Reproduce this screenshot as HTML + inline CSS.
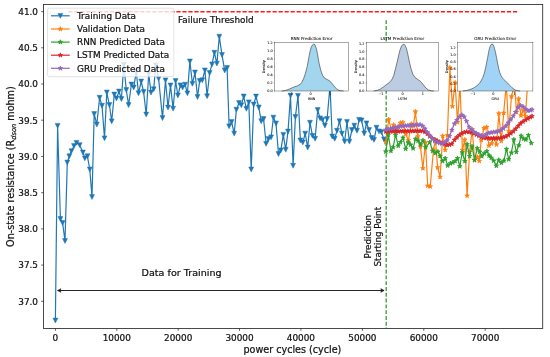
<!DOCTYPE html>
<html><head><meta charset="utf-8"><title>Rdson prediction</title>
<style>
html,body{margin:0;padding:0;background:#fff;}
body{width:550px;height:357px;overflow:hidden;}
svg{display:block;}
text{font-family:"DejaVu Sans","Liberation Sans",sans-serif;fill:#111;stroke:#111;stroke-width:0.22px;}
.t{font-size:8.9px;}
.in text{font-size:3.4px;fill:#111;stroke-width:0.08px;}
</style></head><body>
<svg width="550" height="357" viewBox="0 0 550 357">
<defs>
<path id="tri" d="M-2.45,-2.4 L2.45,-2.4 L0,2.5Z"/>
<path id="star" d="M0.00,-2.35 L0.53,-0.73 L2.23,-0.73 L0.85,0.28 L1.38,1.90 L0.00,0.90 L-1.38,1.90 L-0.85,0.28 L-2.23,-0.73 L-0.53,-0.73Z"/>
<clipPath id="axclip"><rect x="43.5" y="4.5" width="499.25" height="324.0"/></clipPath>
</defs>
<rect width="550" height="357" fill="#fff"/>
<g clip-path="url(#axclip)">
<line x1="68.2" y1="11.799999999999999" x2="517.3" y2="11.799999999999999" stroke="#ff1a1a" stroke-width="1.45" stroke-dasharray="4.2 1.81"/>
<line x1="386.2" y1="20.2" x2="386.2" y2="328.5" stroke="#2ca02c" stroke-width="1.3" stroke-dasharray="3.9 1.9"/>
<polyline points="55.4,320.5 57.6,125.8 60.4,219.0 62.6,223.0 65.0,241.0 67.3,162.5 69.3,156.2 71.5,151.1 74.0,146.0 76.5,142.8 79.7,145.1 82.9,152.4 84.8,158.3 87.4,156.2 89.8,169.5 92.0,197.0 94.2,114.0 96.8,124.5 99.6,97.7 102.0,105.7 104.5,138.3 106.8,92.5 109.4,105.0 111.7,121.3 114.3,94.5 116.5,98.4 119.0,91.5 121.4,99.0 123.8,64.6 126.3,90.0 128.6,105.0 131.4,84.5 133.7,87.4 136.3,71.9 138.5,93.2 141.2,81.5 143.6,91.8 146.2,114.5 148.7,74.0 151.0,92.5 153.7,89.2 155.7,65.3 158.6,78.6 162.5,118.0 165.5,80.3 168.0,107.5 170.5,85.4 173.1,108.6 175.6,81.0 177.9,95.5 180.4,85.3 182.6,87.5 185.1,84.6 187.4,93.3 189.9,61.4 192.4,83.8 195.0,72.5 197.5,97.0 199.7,80.9 202.3,80.2 204.9,70.4 207.1,96.2 209.6,73.0 212.0,64.4 214.4,52.7 216.9,63.6 219.3,36.7 222.0,54.9 224.7,70.4 227.1,68.0 229.1,126.3 231.6,122.0 234.2,133.6 236.4,109.7 239.0,103.0 241.3,105.2 243.7,96.5 246.4,108.8 248.8,102.3 251.2,169.4 253.7,104.5 256.0,96.5 258.8,107.4 261.2,121.2 263.6,119.0 266.1,143.8 268.4,139.0 271.1,137.3 273.4,117.6 276.0,123.4 278.5,154.0 280.8,150.4 283.3,134.8 285.7,149.7 288.0,131.5 290.5,95.6 293.1,165.7 295.4,116.9 298.0,95.8 300.4,140.4 302.8,142.4 305.2,133.6 307.7,147.5 310.0,122.7 312.5,135.8 315.1,138.7 317.7,110.0 320.1,118.3 322.4,119.8 324.9,125.6 327.1,119.0 330.0,86.0 332.2,136.5 334.7,138.7 337.0,130.7 339.5,121.2 341.9,133.6 344.6,141.6 347.0,122.0 349.4,141.6 351.9,130.0 354.3,125.6 357.0,130.7 359.1,119.8 361.6,120.3 364.2,133.5 366.5,123.3 369.1,130.0 371.6,138.0 374.0,139.8 376.5,127.7 379.0,131.3 381.4,132.1 384.0,139.4 386.0,142.0" fill="none" stroke="#1f77b4" stroke-width="1.2" stroke-linejoin="round"/>
<g fill="#1f77b4" stroke="#1f77b4" stroke-width="0.5" stroke-linejoin="round"><use href="#tri" x="55.4" y="320.5"/><use href="#tri" x="57.6" y="125.8"/><use href="#tri" x="60.4" y="219.0"/><use href="#tri" x="62.6" y="223.0"/><use href="#tri" x="65.0" y="241.0"/><use href="#tri" x="67.3" y="162.5"/><use href="#tri" x="69.3" y="156.2"/><use href="#tri" x="71.5" y="151.1"/><use href="#tri" x="74.0" y="146.0"/><use href="#tri" x="76.5" y="142.8"/><use href="#tri" x="79.7" y="145.1"/><use href="#tri" x="82.9" y="152.4"/><use href="#tri" x="84.8" y="158.3"/><use href="#tri" x="87.4" y="156.2"/><use href="#tri" x="89.8" y="169.5"/><use href="#tri" x="92.0" y="197.0"/><use href="#tri" x="94.2" y="114.0"/><use href="#tri" x="96.8" y="124.5"/><use href="#tri" x="99.6" y="97.7"/><use href="#tri" x="102.0" y="105.7"/><use href="#tri" x="104.5" y="138.3"/><use href="#tri" x="106.8" y="92.5"/><use href="#tri" x="109.4" y="105.0"/><use href="#tri" x="111.7" y="121.3"/><use href="#tri" x="114.3" y="94.5"/><use href="#tri" x="116.5" y="98.4"/><use href="#tri" x="119.0" y="91.5"/><use href="#tri" x="121.4" y="99.0"/><use href="#tri" x="123.8" y="64.6"/><use href="#tri" x="126.3" y="90.0"/><use href="#tri" x="128.6" y="105.0"/><use href="#tri" x="131.4" y="84.5"/><use href="#tri" x="133.7" y="87.4"/><use href="#tri" x="136.3" y="71.9"/><use href="#tri" x="138.5" y="93.2"/><use href="#tri" x="141.2" y="81.5"/><use href="#tri" x="143.6" y="91.8"/><use href="#tri" x="146.2" y="114.5"/><use href="#tri" x="148.7" y="74.0"/><use href="#tri" x="151.0" y="92.5"/><use href="#tri" x="153.7" y="89.2"/><use href="#tri" x="155.7" y="65.3"/><use href="#tri" x="158.6" y="78.6"/><use href="#tri" x="162.5" y="118.0"/><use href="#tri" x="165.5" y="80.3"/><use href="#tri" x="168.0" y="107.5"/><use href="#tri" x="170.5" y="85.4"/><use href="#tri" x="173.1" y="108.6"/><use href="#tri" x="175.6" y="81.0"/><use href="#tri" x="177.9" y="95.5"/><use href="#tri" x="180.4" y="85.3"/><use href="#tri" x="182.6" y="87.5"/><use href="#tri" x="185.1" y="84.6"/><use href="#tri" x="187.4" y="93.3"/><use href="#tri" x="189.9" y="61.4"/><use href="#tri" x="192.4" y="83.8"/><use href="#tri" x="195.0" y="72.5"/><use href="#tri" x="197.5" y="97.0"/><use href="#tri" x="199.7" y="80.9"/><use href="#tri" x="202.3" y="80.2"/><use href="#tri" x="204.9" y="70.4"/><use href="#tri" x="207.1" y="96.2"/><use href="#tri" x="209.6" y="73.0"/><use href="#tri" x="212.0" y="64.4"/><use href="#tri" x="214.4" y="52.7"/><use href="#tri" x="216.9" y="63.6"/><use href="#tri" x="219.3" y="36.7"/><use href="#tri" x="222.0" y="54.9"/><use href="#tri" x="224.7" y="70.4"/><use href="#tri" x="227.1" y="68.0"/><use href="#tri" x="229.1" y="126.3"/><use href="#tri" x="231.6" y="122.0"/><use href="#tri" x="234.2" y="133.6"/><use href="#tri" x="236.4" y="109.7"/><use href="#tri" x="239.0" y="103.0"/><use href="#tri" x="241.3" y="105.2"/><use href="#tri" x="243.7" y="96.5"/><use href="#tri" x="246.4" y="108.8"/><use href="#tri" x="248.8" y="102.3"/><use href="#tri" x="251.2" y="169.4"/><use href="#tri" x="253.7" y="104.5"/><use href="#tri" x="256.0" y="96.5"/><use href="#tri" x="258.8" y="107.4"/><use href="#tri" x="261.2" y="121.2"/><use href="#tri" x="263.6" y="119.0"/><use href="#tri" x="266.1" y="143.8"/><use href="#tri" x="268.4" y="139.0"/><use href="#tri" x="271.1" y="137.3"/><use href="#tri" x="273.4" y="117.6"/><use href="#tri" x="276.0" y="123.4"/><use href="#tri" x="278.5" y="154.0"/><use href="#tri" x="280.8" y="150.4"/><use href="#tri" x="283.3" y="134.8"/><use href="#tri" x="285.7" y="149.7"/><use href="#tri" x="288.0" y="131.5"/><use href="#tri" x="290.5" y="95.6"/><use href="#tri" x="293.1" y="165.7"/><use href="#tri" x="295.4" y="116.9"/><use href="#tri" x="298.0" y="95.8"/><use href="#tri" x="300.4" y="140.4"/><use href="#tri" x="302.8" y="142.4"/><use href="#tri" x="305.2" y="133.6"/><use href="#tri" x="307.7" y="147.5"/><use href="#tri" x="310.0" y="122.7"/><use href="#tri" x="312.5" y="135.8"/><use href="#tri" x="315.1" y="138.7"/><use href="#tri" x="317.7" y="110.0"/><use href="#tri" x="320.1" y="118.3"/><use href="#tri" x="322.4" y="119.8"/><use href="#tri" x="324.9" y="125.6"/><use href="#tri" x="327.1" y="119.0"/><use href="#tri" x="330.0" y="86.0"/><use href="#tri" x="332.2" y="136.5"/><use href="#tri" x="334.7" y="138.7"/><use href="#tri" x="337.0" y="130.7"/><use href="#tri" x="339.5" y="121.2"/><use href="#tri" x="341.9" y="133.6"/><use href="#tri" x="344.6" y="141.6"/><use href="#tri" x="347.0" y="122.0"/><use href="#tri" x="349.4" y="141.6"/><use href="#tri" x="351.9" y="130.0"/><use href="#tri" x="354.3" y="125.6"/><use href="#tri" x="357.0" y="130.7"/><use href="#tri" x="359.1" y="119.8"/><use href="#tri" x="361.6" y="120.3"/><use href="#tri" x="364.2" y="133.5"/><use href="#tri" x="366.5" y="123.3"/><use href="#tri" x="369.1" y="130.0"/><use href="#tri" x="371.6" y="138.0"/><use href="#tri" x="374.0" y="139.8"/><use href="#tri" x="376.5" y="127.7"/><use href="#tri" x="379.0" y="131.3"/><use href="#tri" x="381.4" y="132.1"/><use href="#tri" x="384.0" y="139.4"/><use href="#tri" x="386.0" y="142.0"/></g>
<polyline points="385.8,142.2 388.7,119.4 391.3,129.8 393.6,124.9 396.0,131.0 398.2,127.0 400.4,122.9 402.8,122.4 405.8,134.2 408.4,140.4 411.3,124.0 413.3,126.0 415.4,111.6 417.9,136.4 420.4,146.6 422.9,168.3 425.5,142.5 427.7,185.8 430.2,186.5 433.5,149.6 435.5,140.0 437.6,167.5 440.1,177.0 442.7,136.0 445.2,150.0 447.4,135.3 449.9,67.7 452.4,106.4 455.1,82.7 457.5,122.3 460.0,84.0 462.4,150.0 464.8,139.7 467.1,195.7 469.6,152.0 472.2,129.3 474.6,160.0 477.3,157.0 479.3,161.0 481.2,140.2 484.0,128.2 486.7,127.1 488.9,145.7 491.6,143.5 493.8,138.0 496.5,144.6 498.9,113.5 501.3,141.0 503.7,113.0 506.3,84.0 508.7,131.0 511.5,96.5 514.5,84.0 516.5,112.0 518.7,98.8 521.0,115.5 523.2,110.4 525.4,116.2 527.6,84.0 530.7,57.3" fill="none" stroke="#ff7f0e" stroke-width="1.2" stroke-linejoin="round"/>
<g fill="#ff7f0e" stroke="#ff7f0e" stroke-width="0.8" stroke-linejoin="round"><use href="#star" x="385.8" y="142.2"/><use href="#star" x="388.7" y="119.4"/><use href="#star" x="391.3" y="129.8"/><use href="#star" x="393.6" y="124.9"/><use href="#star" x="396.0" y="131.0"/><use href="#star" x="398.2" y="127.0"/><use href="#star" x="400.4" y="122.9"/><use href="#star" x="402.8" y="122.4"/><use href="#star" x="405.8" y="134.2"/><use href="#star" x="408.4" y="140.4"/><use href="#star" x="411.3" y="124.0"/><use href="#star" x="413.3" y="126.0"/><use href="#star" x="415.4" y="111.6"/><use href="#star" x="417.9" y="136.4"/><use href="#star" x="420.4" y="146.6"/><use href="#star" x="422.9" y="168.3"/><use href="#star" x="425.5" y="142.5"/><use href="#star" x="427.7" y="185.8"/><use href="#star" x="430.2" y="186.5"/><use href="#star" x="433.5" y="149.6"/><use href="#star" x="435.5" y="140.0"/><use href="#star" x="437.6" y="167.5"/><use href="#star" x="440.1" y="177.0"/><use href="#star" x="442.7" y="136.0"/><use href="#star" x="445.2" y="150.0"/><use href="#star" x="447.4" y="135.3"/><use href="#star" x="449.9" y="67.7"/><use href="#star" x="452.4" y="106.4"/><use href="#star" x="455.1" y="82.7"/><use href="#star" x="457.5" y="122.3"/><use href="#star" x="460.0" y="84.0"/><use href="#star" x="462.4" y="150.0"/><use href="#star" x="464.8" y="139.7"/><use href="#star" x="467.1" y="195.7"/><use href="#star" x="469.6" y="152.0"/><use href="#star" x="472.2" y="129.3"/><use href="#star" x="474.6" y="160.0"/><use href="#star" x="477.3" y="157.0"/><use href="#star" x="479.3" y="161.0"/><use href="#star" x="481.2" y="140.2"/><use href="#star" x="484.0" y="128.2"/><use href="#star" x="486.7" y="127.1"/><use href="#star" x="488.9" y="145.7"/><use href="#star" x="491.6" y="143.5"/><use href="#star" x="493.8" y="138.0"/><use href="#star" x="496.5" y="144.6"/><use href="#star" x="498.9" y="113.5"/><use href="#star" x="501.3" y="141.0"/><use href="#star" x="503.7" y="113.0"/><use href="#star" x="506.3" y="84.0"/><use href="#star" x="508.7" y="131.0"/><use href="#star" x="511.5" y="96.5"/><use href="#star" x="514.5" y="84.0"/><use href="#star" x="516.5" y="112.0"/><use href="#star" x="518.7" y="98.8"/><use href="#star" x="521.0" y="115.5"/><use href="#star" x="523.2" y="110.4"/><use href="#star" x="525.4" y="116.2"/><use href="#star" x="527.6" y="84.0"/><use href="#star" x="530.7" y="57.3"/></g>
<polyline points="385.8,151.6 388.3,134.9 390.9,150.9 393.1,147.3 395.6,134.9 398.2,145.8 400.5,142.2 403.0,137.8 405.7,148.8 408.2,142.6 410.6,144.8 413.1,148.4 415.5,139.0 418.0,140.8 420.6,144.5 423.0,140.4 425.6,147.4 429.8,142.3 432.7,151.0 435.2,153.2 437.9,151.7 440.1,156.1 442.7,161.2 445.2,158.3 447.7,165.6 450.3,163.4 452.8,162.7 455.1,161.2 457.6,158.3 459.8,166.3 462.2,152.5 464.9,161.2 467.1,144.3 469.6,156.2 472.0,146.4 474.6,160.2 477.2,148.2 479.7,151.8 481.8,156.3 484.2,153.4 486.9,151.2 489.1,155.6 491.2,157.8 493.7,160.7 496.3,165.8 498.8,160.0 501.4,162.9 503.9,160.7 506.5,149.1 508.7,159.3 511.4,152.7 513.8,139.6 516.3,152.0 518.9,145.4 521.1,135.9 523.7,138.8 525.9,139.6 528.4,135.2 531.3,143.2" fill="none" stroke="#2ca02c" stroke-width="1.2" stroke-linejoin="round"/>
<g fill="#2ca02c" stroke="#2ca02c" stroke-width="0.8" stroke-linejoin="round"><use href="#star" x="385.8" y="151.6"/><use href="#star" x="388.3" y="134.9"/><use href="#star" x="390.9" y="150.9"/><use href="#star" x="393.1" y="147.3"/><use href="#star" x="395.6" y="134.9"/><use href="#star" x="398.2" y="145.8"/><use href="#star" x="400.5" y="142.2"/><use href="#star" x="403.0" y="137.8"/><use href="#star" x="405.7" y="148.8"/><use href="#star" x="408.2" y="142.6"/><use href="#star" x="410.6" y="144.8"/><use href="#star" x="413.1" y="148.4"/><use href="#star" x="415.5" y="139.0"/><use href="#star" x="418.0" y="140.8"/><use href="#star" x="420.6" y="144.5"/><use href="#star" x="423.0" y="140.4"/><use href="#star" x="425.6" y="147.4"/><use href="#star" x="429.8" y="142.3"/><use href="#star" x="432.7" y="151.0"/><use href="#star" x="435.2" y="153.2"/><use href="#star" x="437.9" y="151.7"/><use href="#star" x="440.1" y="156.1"/><use href="#star" x="442.7" y="161.2"/><use href="#star" x="445.2" y="158.3"/><use href="#star" x="447.7" y="165.6"/><use href="#star" x="450.3" y="163.4"/><use href="#star" x="452.8" y="162.7"/><use href="#star" x="455.1" y="161.2"/><use href="#star" x="457.6" y="158.3"/><use href="#star" x="459.8" y="166.3"/><use href="#star" x="462.2" y="152.5"/><use href="#star" x="464.9" y="161.2"/><use href="#star" x="467.1" y="144.3"/><use href="#star" x="469.6" y="156.2"/><use href="#star" x="472.0" y="146.4"/><use href="#star" x="474.6" y="160.2"/><use href="#star" x="477.2" y="148.2"/><use href="#star" x="479.7" y="151.8"/><use href="#star" x="481.8" y="156.3"/><use href="#star" x="484.2" y="153.4"/><use href="#star" x="486.9" y="151.2"/><use href="#star" x="489.1" y="155.6"/><use href="#star" x="491.2" y="157.8"/><use href="#star" x="493.7" y="160.7"/><use href="#star" x="496.3" y="165.8"/><use href="#star" x="498.8" y="160.0"/><use href="#star" x="501.4" y="162.9"/><use href="#star" x="503.9" y="160.7"/><use href="#star" x="506.5" y="149.1"/><use href="#star" x="508.7" y="159.3"/><use href="#star" x="511.4" y="152.7"/><use href="#star" x="513.8" y="139.6"/><use href="#star" x="516.3" y="152.0"/><use href="#star" x="518.9" y="145.4"/><use href="#star" x="521.1" y="135.9"/><use href="#star" x="523.7" y="138.8"/><use href="#star" x="525.9" y="139.6"/><use href="#star" x="528.4" y="135.2"/><use href="#star" x="531.3" y="143.2"/></g>
<polyline points="385.8,131.5 388.2,131.5 390.7,131.4 393.1,131.4 395.6,131.4 398.1,131.3 400.5,131.3 402.9,131.2 405.4,131.2 407.9,131.1 410.3,131.1 412.8,131.0 415.2,131.0 417.6,131.0 420.1,131.0 422.6,131.0 425.0,131.9 427.4,133.8 429.9,136.4 432.4,138.4 434.8,139.9 437.2,140.9 439.7,142.1 442.1,143.2 444.6,144.2 447.1,145.0 449.5,144.7 451.9,143.9 454.4,140.0 456.9,137.4 459.3,135.2 461.8,133.5 464.2,132.4 466.6,131.8 469.1,132.1 471.6,132.4 474.0,133.4 476.4,134.7 478.9,135.8 481.4,136.8 483.8,137.7 486.2,138.0 488.7,138.3 491.1,138.5 493.6,138.4 496.1,138.3 498.5,138.3 500.9,137.8 503.4,137.3 505.9,136.5 508.3,135.2 510.8,133.4 513.2,131.4 515.6,128.9 518.1,126.1 520.5,123.5 523.0,121.7 525.5,120.1 527.9,118.6 530.4,117.2 532.0,116.2" fill="none" stroke="#d62728" stroke-width="1.2" stroke-linejoin="round"/>
<g fill="#d62728" stroke="#d62728" stroke-width="0.8" stroke-linejoin="round"><use href="#star" x="385.8" y="131.5"/><use href="#star" x="388.2" y="131.5"/><use href="#star" x="390.7" y="131.4"/><use href="#star" x="393.1" y="131.4"/><use href="#star" x="395.6" y="131.4"/><use href="#star" x="398.1" y="131.3"/><use href="#star" x="400.5" y="131.3"/><use href="#star" x="402.9" y="131.2"/><use href="#star" x="405.4" y="131.2"/><use href="#star" x="407.9" y="131.1"/><use href="#star" x="410.3" y="131.1"/><use href="#star" x="412.8" y="131.0"/><use href="#star" x="415.2" y="131.0"/><use href="#star" x="417.6" y="131.0"/><use href="#star" x="420.1" y="131.0"/><use href="#star" x="422.6" y="131.0"/><use href="#star" x="425.0" y="131.9"/><use href="#star" x="427.4" y="133.8"/><use href="#star" x="429.9" y="136.4"/><use href="#star" x="432.4" y="138.4"/><use href="#star" x="434.8" y="139.9"/><use href="#star" x="437.2" y="140.9"/><use href="#star" x="439.7" y="142.1"/><use href="#star" x="442.1" y="143.2"/><use href="#star" x="444.6" y="144.2"/><use href="#star" x="447.1" y="145.0"/><use href="#star" x="449.5" y="144.7"/><use href="#star" x="451.9" y="143.9"/><use href="#star" x="454.4" y="140.0"/><use href="#star" x="456.9" y="137.4"/><use href="#star" x="459.3" y="135.2"/><use href="#star" x="461.8" y="133.5"/><use href="#star" x="464.2" y="132.4"/><use href="#star" x="466.6" y="131.8"/><use href="#star" x="469.1" y="132.1"/><use href="#star" x="471.6" y="132.4"/><use href="#star" x="474.0" y="133.4"/><use href="#star" x="476.4" y="134.7"/><use href="#star" x="478.9" y="135.8"/><use href="#star" x="481.4" y="136.8"/><use href="#star" x="483.8" y="137.7"/><use href="#star" x="486.2" y="138.0"/><use href="#star" x="488.7" y="138.3"/><use href="#star" x="491.1" y="138.5"/><use href="#star" x="493.6" y="138.4"/><use href="#star" x="496.1" y="138.3"/><use href="#star" x="498.5" y="138.3"/><use href="#star" x="500.9" y="137.8"/><use href="#star" x="503.4" y="137.3"/><use href="#star" x="505.9" y="136.5"/><use href="#star" x="508.3" y="135.2"/><use href="#star" x="510.8" y="133.4"/><use href="#star" x="513.2" y="131.4"/><use href="#star" x="515.6" y="128.9"/><use href="#star" x="518.1" y="126.1"/><use href="#star" x="520.5" y="123.5"/><use href="#star" x="523.0" y="121.7"/><use href="#star" x="525.5" y="120.1"/><use href="#star" x="527.9" y="118.6"/><use href="#star" x="530.4" y="117.2"/><use href="#star" x="532.0" y="116.2"/></g>
<polyline points="385.8,129.8 388.2,129.2 390.7,128.6 393.1,128.0 395.6,127.5 398.1,126.9 400.5,126.4 402.9,126.0 405.4,125.8 407.9,125.6 410.3,125.4 412.8,125.2 415.2,125.0 417.6,124.9 420.1,124.7 422.6,126.0 425.0,128.8 427.4,132.4 429.9,135.7 432.4,138.8 434.8,141.2 437.2,142.4 439.7,143.1 442.1,143.5 444.6,142.7 447.1,140.6 449.5,136.2 451.9,130.1 454.4,123.7 456.9,120.2 459.3,117.0 461.8,114.9 464.2,116.8 466.6,121.2 469.1,127.2 471.6,129.8 474.0,132.0 476.4,133.3 478.9,134.7 481.4,135.7 483.8,136.0 486.2,134.2 488.7,133.0 491.1,132.5 493.6,132.1 496.1,131.8 498.5,131.5 500.9,130.0 503.4,128.5 505.9,125.9 508.3,122.8 510.8,119.5 513.2,116.0 515.6,112.2 518.1,107.6 520.5,105.5 523.0,106.7 525.5,109.0 527.9,110.8 530.4,110.3 532.0,109.7" fill="none" stroke="#9467bd" stroke-width="1.2" stroke-linejoin="round"/>
<g fill="#9467bd" stroke="#9467bd" stroke-width="0.8" stroke-linejoin="round"><use href="#star" x="385.8" y="129.8"/><use href="#star" x="388.2" y="129.2"/><use href="#star" x="390.7" y="128.6"/><use href="#star" x="393.1" y="128.0"/><use href="#star" x="395.6" y="127.5"/><use href="#star" x="398.1" y="126.9"/><use href="#star" x="400.5" y="126.4"/><use href="#star" x="402.9" y="126.0"/><use href="#star" x="405.4" y="125.8"/><use href="#star" x="407.9" y="125.6"/><use href="#star" x="410.3" y="125.4"/><use href="#star" x="412.8" y="125.2"/><use href="#star" x="415.2" y="125.0"/><use href="#star" x="417.6" y="124.9"/><use href="#star" x="420.1" y="124.7"/><use href="#star" x="422.6" y="126.0"/><use href="#star" x="425.0" y="128.8"/><use href="#star" x="427.4" y="132.4"/><use href="#star" x="429.9" y="135.7"/><use href="#star" x="432.4" y="138.8"/><use href="#star" x="434.8" y="141.2"/><use href="#star" x="437.2" y="142.4"/><use href="#star" x="439.7" y="143.1"/><use href="#star" x="442.1" y="143.5"/><use href="#star" x="444.6" y="142.7"/><use href="#star" x="447.1" y="140.6"/><use href="#star" x="449.5" y="136.2"/><use href="#star" x="451.9" y="130.1"/><use href="#star" x="454.4" y="123.7"/><use href="#star" x="456.9" y="120.2"/><use href="#star" x="459.3" y="117.0"/><use href="#star" x="461.8" y="114.9"/><use href="#star" x="464.2" y="116.8"/><use href="#star" x="466.6" y="121.2"/><use href="#star" x="469.1" y="127.2"/><use href="#star" x="471.6" y="129.8"/><use href="#star" x="474.0" y="132.0"/><use href="#star" x="476.4" y="133.3"/><use href="#star" x="478.9" y="134.7"/><use href="#star" x="481.4" y="135.7"/><use href="#star" x="483.8" y="136.0"/><use href="#star" x="486.2" y="134.2"/><use href="#star" x="488.7" y="133.0"/><use href="#star" x="491.1" y="132.5"/><use href="#star" x="493.6" y="132.1"/><use href="#star" x="496.1" y="131.8"/><use href="#star" x="498.5" y="131.5"/><use href="#star" x="500.9" y="130.0"/><use href="#star" x="503.4" y="128.5"/><use href="#star" x="505.9" y="125.9"/><use href="#star" x="508.3" y="122.8"/><use href="#star" x="510.8" y="119.5"/><use href="#star" x="513.2" y="116.0"/><use href="#star" x="515.6" y="112.2"/><use href="#star" x="518.1" y="107.6"/><use href="#star" x="520.5" y="105.5"/><use href="#star" x="523.0" y="106.7"/><use href="#star" x="525.5" y="109.0"/><use href="#star" x="527.9" y="110.8"/><use href="#star" x="530.4" y="110.3"/><use href="#star" x="532.0" y="109.7"/></g>
</g>
<text class="t" x="178" y="23" textLength="75.6" lengthAdjust="spacingAndGlyphs">Failure Threshold</text>
<text x="141.6" y="276.1" font-size="9.5" textLength="80" lengthAdjust="spacingAndGlyphs">Data for Training</text>
<g stroke="#1a1a1a" stroke-width="0.95" fill="none" stroke-linejoin="miter"><line x1="57.6" y1="290.5" x2="384" y2="290.5"/><polygon points="60.9,288.7 57.6,290.5 60.9,292.3 60.2,290.5" fill="#1a1a1a" stroke-width="0.6"/><polygon points="380.8,288.7 384.1,290.5 380.8,292.3 381.5,290.5" fill="#1a1a1a" stroke-width="0.6"/></g>
<text class="t" transform="translate(370.6,236.7) rotate(-90)" text-anchor="middle" textLength="43.6" lengthAdjust="spacingAndGlyphs">Prediction</text>
<text class="t" transform="translate(381.2,236.7) rotate(-90)" text-anchor="middle" textLength="59.6" lengthAdjust="spacingAndGlyphs">Starting Point</text>
<g class="in"><rect x="274.8" y="42.4" width="73.5" height="48.6" fill="#fff"/><path d="M281.7,91.0 L285.3,90.5 L289.0,89.2 L294.4,86.8 L297.2,85.9 L299.9,84.6 L301.7,82.5 L303.5,78.8 L305.4,73.4 L307.2,66.4 L308.6,58.8 L309.9,51.9 L311.2,47.3 L312.6,44.8 L313.7,44.0 L314.8,44.6 L316.3,48.2 L317.6,54.6 L319.0,62.8 L320.8,70.4 L322.7,75.5 L324.5,78.1 L327.2,79.5 L329.4,80.8 L330.9,82.1 L332.7,84.3 L334.5,86.6 L336.3,88.7 L338.1,90.1 L340.9,90.8 L343.6,91.0 Z" fill="#a2d5ee"/><path d="M281.7,91.0 L285.3,90.5 L289.0,89.2 L294.4,86.8 L297.2,85.9 L299.9,84.6 L301.7,82.5 L303.5,78.8 L305.4,73.4 L307.2,66.4 L308.6,58.8 L309.9,51.9 L311.2,47.3 L312.6,44.8 L313.7,44.0 L314.8,44.6 L316.3,48.2 L317.6,54.6 L319.0,62.8 L320.8,70.4 L322.7,75.5 L324.5,78.1 L327.2,79.5 L329.4,80.8 L330.9,82.1 L332.7,84.3 L334.5,86.6 L336.3,88.7 L338.1,90.1 L340.9,90.8 L343.6,91.0" fill="none" stroke="#222" stroke-width="0.55"/><rect x="274.8" y="42.4" width="73.5" height="48.6" fill="none" stroke="#111" stroke-width="0.36"/><text x="311.6" y="39.7" text-anchor="middle" style="font-size:4.1px">RNN Prediction Error</text><text transform="translate(265.2,66.7) rotate(-90)" text-anchor="middle">Density</text><line x1="273.90000000000003" y1="91.0" x2="274.8" y2="91.0" stroke="#333" stroke-width="0.3"/><text x="272.7" y="92.2" text-anchor="end">0.0</text><line x1="273.90000000000003" y1="83.0" x2="274.8" y2="83.0" stroke="#333" stroke-width="0.3"/><text x="272.7" y="84.2" text-anchor="end">0.2</text><line x1="273.90000000000003" y1="75.0" x2="274.8" y2="75.0" stroke="#333" stroke-width="0.3"/><text x="272.7" y="76.2" text-anchor="end">0.4</text><line x1="273.90000000000003" y1="66.9" x2="274.8" y2="66.9" stroke="#333" stroke-width="0.3"/><text x="272.7" y="68.1" text-anchor="end">0.6</text><line x1="273.90000000000003" y1="58.9" x2="274.8" y2="58.9" stroke="#333" stroke-width="0.3"/><text x="272.7" y="60.1" text-anchor="end">0.8</text><line x1="273.90000000000003" y1="50.9" x2="274.8" y2="50.9" stroke="#333" stroke-width="0.3"/><text x="272.7" y="52.1" text-anchor="end">1.0</text><line x1="273.90000000000003" y1="42.9" x2="274.8" y2="42.9" stroke="#333" stroke-width="0.3"/><text x="272.7" y="44.1" text-anchor="end">1.2</text><line x1="290.4" y1="91" x2="290.4" y2="91.9" stroke="#333" stroke-width="0.3"/><text x="290.4" y="95.2" text-anchor="middle">−1</text><line x1="310.5" y1="91" x2="310.5" y2="91.9" stroke="#333" stroke-width="0.3"/><text x="310.5" y="95.2" text-anchor="middle">0</text><line x1="330.2" y1="91" x2="330.2" y2="91.9" stroke="#333" stroke-width="0.3"/><text x="330.2" y="95.2" text-anchor="middle">1</text><text x="311.6" y="100.0" text-anchor="middle">RNN</text></g>
<g class="in"><rect x="366.4" y="42.4" width="72.0" height="48.6" fill="#fff"/><path d="M373.7,91.0 L377.3,90.3 L380.1,89.2 L383.7,86.8 L386.4,84.6 L388.6,83.0 L390.4,81.5 L392.3,78.8 L393.7,75.5 L395.5,68.6 L397.4,61.0 L398.8,54.6 L400.1,49.7 L401.5,46.0 L402.8,44.6 L404.1,44.2 L405.2,45.5 L406.5,48.6 L407.9,54.6 L409.2,61.0 L411.0,68.6 L412.8,74.1 L415.0,77.4 L417.4,79.2 L419.6,80.6 L421.4,82.3 L423.2,84.6 L425.0,87.0 L426.9,88.8 L428.7,90.1 L431.1,90.8 L433.8,91.0 Z" fill="#bccde3"/><path d="M373.7,91.0 L377.3,90.3 L380.1,89.2 L383.7,86.8 L386.4,84.6 L388.6,83.0 L390.4,81.5 L392.3,78.8 L393.7,75.5 L395.5,68.6 L397.4,61.0 L398.8,54.6 L400.1,49.7 L401.5,46.0 L402.8,44.6 L404.1,44.2 L405.2,45.5 L406.5,48.6 L407.9,54.6 L409.2,61.0 L411.0,68.6 L412.8,74.1 L415.0,77.4 L417.4,79.2 L419.6,80.6 L421.4,82.3 L423.2,84.6 L425.0,87.0 L426.9,88.8 L428.7,90.1 L431.1,90.8 L433.8,91.0" fill="none" stroke="#222" stroke-width="0.55"/><rect x="366.4" y="42.4" width="72.0" height="48.6" fill="none" stroke="#111" stroke-width="0.36"/><text x="402.4" y="39.7" text-anchor="middle" style="font-size:4.1px">LSTM Prediction Error</text><text transform="translate(356.8,66.7) rotate(-90)" text-anchor="middle">Density</text><line x1="365.5" y1="91.0" x2="366.4" y2="91.0" stroke="#333" stroke-width="0.3"/><text x="364.3" y="92.2" text-anchor="end">0.0</text><line x1="365.5" y1="83.0" x2="366.4" y2="83.0" stroke="#333" stroke-width="0.3"/><text x="364.3" y="84.2" text-anchor="end">0.2</text><line x1="365.5" y1="75.1" x2="366.4" y2="75.1" stroke="#333" stroke-width="0.3"/><text x="364.3" y="76.3" text-anchor="end">0.4</text><line x1="365.5" y1="67.2" x2="366.4" y2="67.2" stroke="#333" stroke-width="0.3"/><text x="364.3" y="68.4" text-anchor="end">0.6</text><line x1="365.5" y1="59.2" x2="366.4" y2="59.2" stroke="#333" stroke-width="0.3"/><text x="364.3" y="60.4" text-anchor="end">0.8</text><line x1="365.5" y1="51.2" x2="366.4" y2="51.2" stroke="#333" stroke-width="0.3"/><text x="364.3" y="52.5" text-anchor="end">1.0</text><line x1="365.5" y1="43.3" x2="366.4" y2="43.3" stroke="#333" stroke-width="0.3"/><text x="364.3" y="44.5" text-anchor="end">1.2</text><line x1="381" y1="91" x2="381" y2="91.9" stroke="#333" stroke-width="0.3"/><text x="381" y="95.2" text-anchor="middle">−1</text><line x1="402.5" y1="91" x2="402.5" y2="91.9" stroke="#333" stroke-width="0.3"/><text x="402.5" y="95.2" text-anchor="middle">0</text><line x1="422.9" y1="91" x2="422.9" y2="91.9" stroke="#333" stroke-width="0.3"/><text x="422.9" y="95.2" text-anchor="middle">1</text><text x="402.4" y="100.0" text-anchor="middle">LSTM</text></g>
<g class="in"><rect x="457.7" y="42.4" width="75.2" height="48.6" fill="#fff"/><path d="M462.8,91.0 L466.4,90.5 L469.1,89.7 L471.9,88.8 L474.6,87.4 L477.0,85.7 L479.2,83.7 L481.0,81.0 L482.8,77.4 L484.3,73.2 L485.5,68.3 L486.6,62.8 L487.7,57.3 L488.6,52.2 L489.5,48.2 L490.6,45.3 L491.7,44.0 L492.8,44.2 L493.7,45.8 L494.6,48.8 L495.6,52.8 L496.5,57.3 L497.6,63.2 L498.7,68.3 L499.7,72.4 L501.0,75.5 L502.3,77.7 L503.8,79.5 L505.6,81.2 L507.4,82.8 L509.6,85.2 L511.9,87.6 L513.8,89.0 L515.6,90.1 L518.0,90.8 L520.1,91.0 Z" fill="#a0d3f5"/><path d="M462.8,91.0 L466.4,90.5 L469.1,89.7 L471.9,88.8 L474.6,87.4 L477.0,85.7 L479.2,83.7 L481.0,81.0 L482.8,77.4 L484.3,73.2 L485.5,68.3 L486.6,62.8 L487.7,57.3 L488.6,52.2 L489.5,48.2 L490.6,45.3 L491.7,44.0 L492.8,44.2 L493.7,45.8 L494.6,48.8 L495.6,52.8 L496.5,57.3 L497.6,63.2 L498.7,68.3 L499.7,72.4 L501.0,75.5 L502.3,77.7 L503.8,79.5 L505.6,81.2 L507.4,82.8 L509.6,85.2 L511.9,87.6 L513.8,89.0 L515.6,90.1 L518.0,90.8 L520.1,91.0" fill="none" stroke="#222" stroke-width="0.55"/><rect x="457.7" y="42.4" width="75.2" height="48.6" fill="none" stroke="#111" stroke-width="0.36"/><text x="495.3" y="39.7" text-anchor="middle" style="font-size:4.1px">GRU Prediction Error</text><text transform="translate(448.1,66.7) rotate(-90)" text-anchor="middle">Density</text><line x1="456.8" y1="91.0" x2="457.7" y2="91.0" stroke="#333" stroke-width="0.3"/><text x="455.6" y="92.2" text-anchor="end">0.0</text><line x1="456.8" y1="83.7" x2="457.7" y2="83.7" stroke="#333" stroke-width="0.3"/><text x="455.6" y="84.9" text-anchor="end">0.2</text><line x1="456.8" y1="76.4" x2="457.7" y2="76.4" stroke="#333" stroke-width="0.3"/><text x="455.6" y="77.6" text-anchor="end">0.4</text><line x1="456.8" y1="69.2" x2="457.7" y2="69.2" stroke="#333" stroke-width="0.3"/><text x="455.6" y="70.4" text-anchor="end">0.6</text><line x1="456.8" y1="61.9" x2="457.7" y2="61.9" stroke="#333" stroke-width="0.3"/><text x="455.6" y="63.1" text-anchor="end">0.8</text><line x1="456.8" y1="54.6" x2="457.7" y2="54.6" stroke="#333" stroke-width="0.3"/><text x="455.6" y="55.8" text-anchor="end">1.0</text><line x1="456.8" y1="47.3" x2="457.7" y2="47.3" stroke="#333" stroke-width="0.3"/><text x="455.6" y="48.5" text-anchor="end">1.2</text><line x1="472.8" y1="91" x2="472.8" y2="91.9" stroke="#333" stroke-width="0.3"/><text x="472.8" y="95.2" text-anchor="middle">−1</text><line x1="493.4" y1="91" x2="493.4" y2="91.9" stroke="#333" stroke-width="0.3"/><text x="493.4" y="95.2" text-anchor="middle">0</text><line x1="514.7" y1="91" x2="514.7" y2="91.9" stroke="#333" stroke-width="0.3"/><text x="514.7" y="95.2" text-anchor="middle">1</text><text x="495.3" y="100.0" text-anchor="middle">GRU</text></g>
<rect x="47.5" y="8.2" width="126.3" height="68.5" rx="1.8" ry="1.8" fill="#fff" fill-opacity="0.8" stroke="#ccc" stroke-opacity="0.8" stroke-width="0.7"/>
<line x1="51" y1="15.8" x2="69.7" y2="15.8" stroke="#1f77b4" stroke-width="1.2"/><use href="#tri" x="60.35" y="15.8" fill="#1f77b4" stroke="#1f77b4" stroke-width="0.5" stroke-linejoin="round"/><text class="t" x="77" y="19.0">Training Data</text>
<line x1="51" y1="29.0" x2="69.7" y2="29.0" stroke="#ff7f0e" stroke-width="1.2"/><use href="#star" x="60.35" y="29.0" fill="#ff7f0e" stroke="#ff7f0e" stroke-width="0.8" stroke-linejoin="round"/><text class="t" x="77" y="32.2">Validation Data</text>
<line x1="51" y1="42.1" x2="69.7" y2="42.1" stroke="#2ca02c" stroke-width="1.2"/><use href="#star" x="60.35" y="42.1" fill="#2ca02c" stroke="#2ca02c" stroke-width="0.8" stroke-linejoin="round"/><text class="t" x="77" y="45.3">RNN Predicted Data</text>
<line x1="51" y1="55.2" x2="69.7" y2="55.2" stroke="#d62728" stroke-width="1.2"/><use href="#star" x="60.35" y="55.2" fill="#d62728" stroke="#d62728" stroke-width="0.8" stroke-linejoin="round"/><text class="t" x="77" y="58.4">LSTM Predicted Data</text>
<line x1="51" y1="68.3" x2="69.7" y2="68.3" stroke="#9467bd" stroke-width="1.2"/><use href="#star" x="60.35" y="68.3" fill="#9467bd" stroke="#9467bd" stroke-width="0.8" stroke-linejoin="round"/><text class="t" x="77" y="71.5">GRU Predicted Data</text>
<rect x="43.5" y="4.5" width="499.2" height="324.0" fill="none" stroke="#2a2a2a" stroke-width="0.85"/>
<g stroke="#222" stroke-width="0.7"><line x1="55.4" y1="328.5" x2="55.4" y2="330.8"/><line x1="116.8" y1="328.5" x2="116.8" y2="330.8"/><line x1="178.2" y1="328.5" x2="178.2" y2="330.8"/><line x1="239.5" y1="328.5" x2="239.5" y2="330.8"/><line x1="300.9" y1="328.5" x2="300.9" y2="330.8"/><line x1="362.4" y1="328.5" x2="362.4" y2="330.8"/><line x1="423.8" y1="328.5" x2="423.8" y2="330.8"/><line x1="485.2" y1="328.5" x2="485.2" y2="330.8"/><line x1="41.2" y1="11.6" x2="43.5" y2="11.6"/><line x1="41.2" y1="47.8" x2="43.5" y2="47.8"/><line x1="41.2" y1="84.0" x2="43.5" y2="84.0"/><line x1="41.2" y1="120.2" x2="43.5" y2="120.2"/><line x1="41.2" y1="156.5" x2="43.5" y2="156.5"/><line x1="41.2" y1="192.7" x2="43.5" y2="192.7"/><line x1="41.2" y1="228.9" x2="43.5" y2="228.9"/><line x1="41.2" y1="265.1" x2="43.5" y2="265.1"/><line x1="41.2" y1="301.3" x2="43.5" y2="301.3"/></g>
<text class="t" x="55.4" y="341.1" text-anchor="middle">0</text><text class="t" x="116.8" y="341.1" text-anchor="middle">10000</text><text class="t" x="178.2" y="341.1" text-anchor="middle">20000</text><text class="t" x="239.5" y="341.1" text-anchor="middle">30000</text><text class="t" x="300.9" y="341.1" text-anchor="middle">40000</text><text class="t" x="362.4" y="341.1" text-anchor="middle">50000</text><text class="t" x="423.8" y="341.1" text-anchor="middle">60000</text><text class="t" x="485.2" y="341.1" text-anchor="middle">70000</text><text class="t" x="38" y="14.9" text-anchor="end">41.0</text><text class="t" x="38" y="51.1" text-anchor="end">40.5</text><text class="t" x="38" y="87.3" text-anchor="end">40.0</text><text class="t" x="38" y="123.5" text-anchor="end">39.5</text><text class="t" x="38" y="159.8" text-anchor="end">39.0</text><text class="t" x="38" y="196.0" text-anchor="end">38.5</text><text class="t" x="38" y="232.2" text-anchor="end">38.0</text><text class="t" x="38" y="268.4" text-anchor="end">37.5</text><text class="t" x="38" y="304.6" text-anchor="end">37.0</text>
<text x="292.4" y="353.1" font-size="9.6" text-anchor="middle">power cycles (cycle)</text>
<text font-size="9.6" transform="translate(13.8,166.6) rotate(-90)" text-anchor="middle">On-state resistance (R<tspan font-size="6.7" font-style="italic" dy="1.7">dson</tspan><tspan dy="-1.7"> mohm)</tspan></text>
</svg></body></html>
